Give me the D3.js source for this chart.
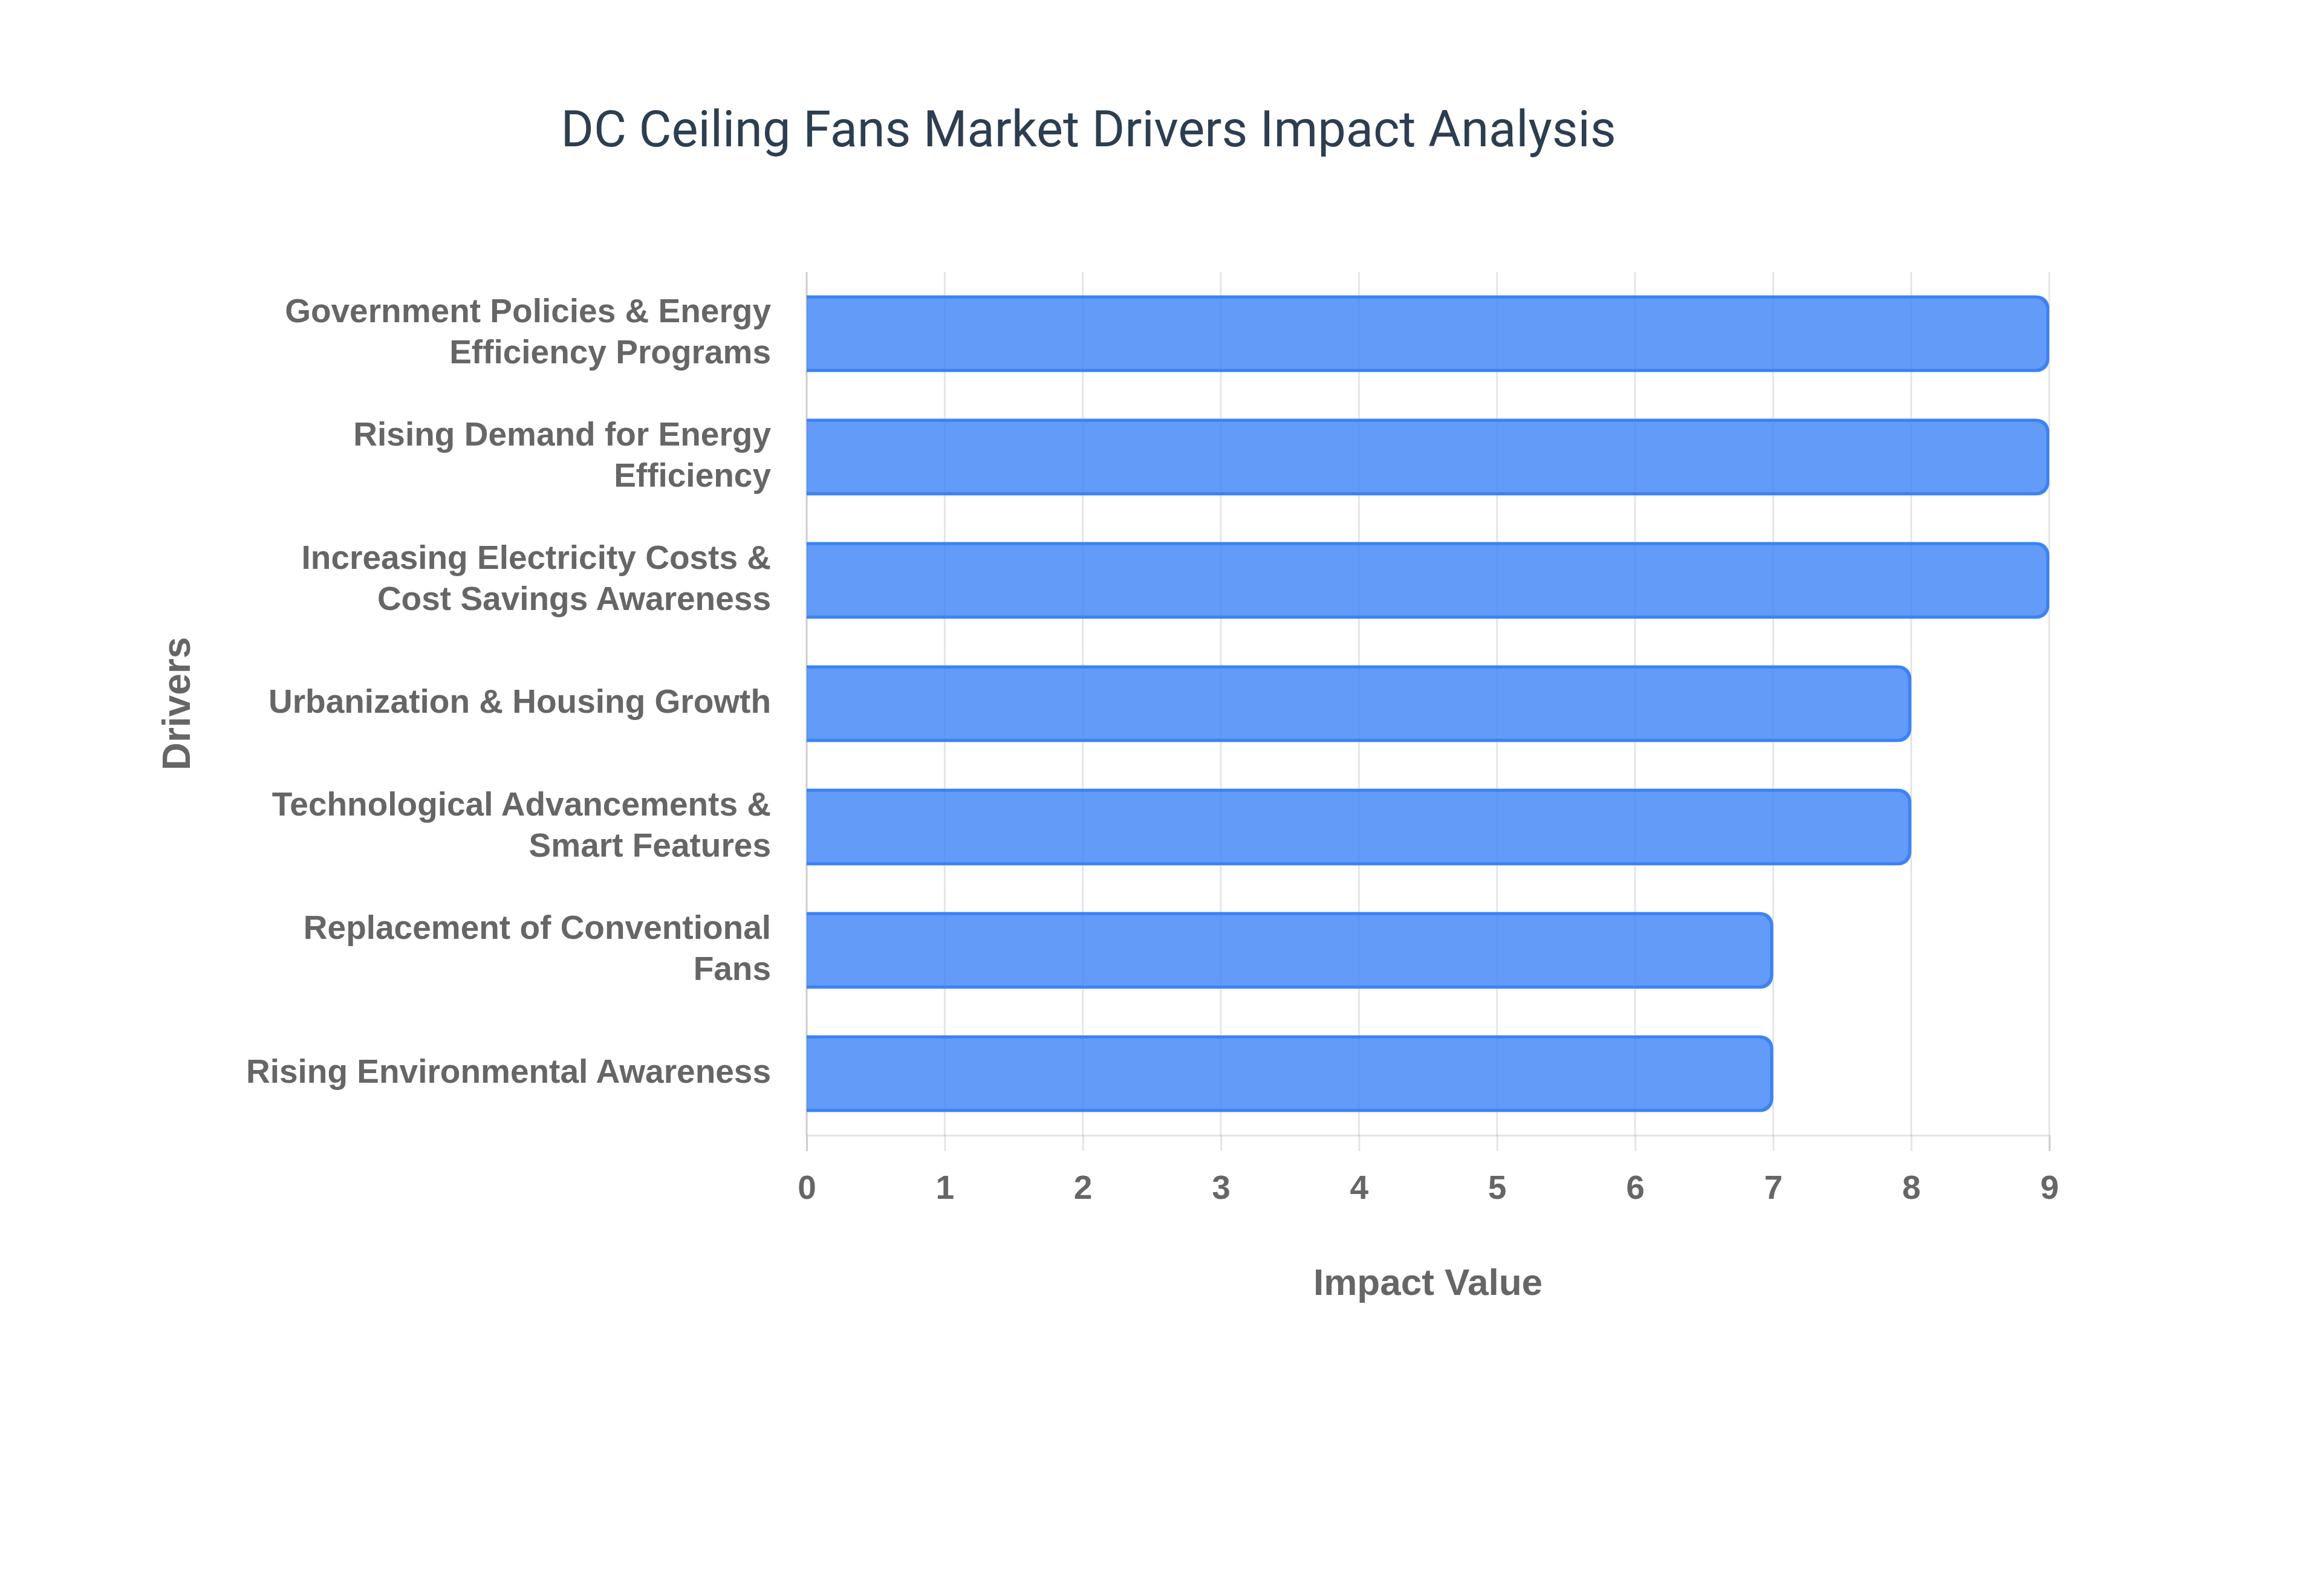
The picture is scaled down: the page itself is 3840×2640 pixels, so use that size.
<!DOCTYPE html>
<html>
<head>
<meta charset="utf-8">
<script src="https://cdn.jsdelivr.net/npm/d3@7"></script>
<style>
  body { margin: 0; background: #fff; }
  svg { display: block; }
</style>
</head>
<body>
<div id="chart"></div>
<script>
// chart data
var drivers = [
  "Government Policies & Energy Efficiency Programs",
  "Rising Demand for Energy Efficiency",
  "Increasing Electricity Costs & Cost Savings Awareness",
  "Urbanization & Housing Growth",
  "Technological Advancements & Smart Features",
  "Replacement of Conventional Fans",
  "Rising Environmental Awareness"
];
var impact = [9, 9, 9, 8, 8, 7, 7];
var xTicks = [0, 1, 2, 3, 4, 5, 6, 7, 8, 9];

var titleText = "DC Ceiling Fans Market Drivers Impact Analysis";
var xTitle = "Impact Value";
var yTitle = "Drivers";

var data = drivers.map(function(d, i) { return { driver: d, value: impact[i] }; });

// dimensions
var W = 3840, H = 2640;
var margin = { top: 450, right: 451, bottom: 762, left: 1334 },
  width = W - margin.left - margin.right,
  height = H - margin.top - margin.bottom;

var labelFont = "'Liberation Sans', Arial, Helvetica, sans-serif";
var gridColor = "rgba(0,0,0,0.1)";

var x = d3.scaleLinear().domain([0, 9]).range([0, width]);
var y = d3.scaleBand().domain(drivers).range([0, height]).paddingInner(0.38).paddingOuter(0.19);

var svg = d3.select("#chart").append("svg")
  .attr("width", W)
  .attr("height", H);

svg.append("rect").attr("width", W).attr("height", H).attr("fill", "#fff");

// title
svg.append("text")
  .attr("x", 1800)
  .attr("y", 242)
  .attr("text-anchor", "middle")
  .style("font-family", "Roboto, 'Noto Sans', sans-serif")
  .style("font-weight", 400)
  .style("font-size", "83px")
  .style("fill", "#2c3e50")
  .text(titleText);

var g = svg.append("g")
  .attr("transform", "translate(" + margin.left + "," + margin.top + ")");

// vertical grid lines
g.selectAll(".grid")
  .data(xTicks)
  .enter().append("line")
  .attr("class", "grid")
  .attr("x1", function(d) { return x(d); })
  .attr("x2", function(d) { return x(d); })
  .attr("y1", 0)
  .attr("y2", height)
  .attr("stroke", gridColor)
  .attr("stroke-width", 3);

// y axis line
g.append("line")
  .attr("x1", 0).attr("x2", 0)
  .attr("y1", 0).attr("y2", height)
  .attr("stroke", gridColor)
  .attr("stroke-width", 3);

// bars: rounded on the value end, square at the axis
var r = 20, bw = 5;
function barPath(d, inset) {
  var x0 = 0, x1 = x(d.value) - inset, y0 = y(d.driver) + inset, y1 = y(d.driver) + y.bandwidth() - inset;
  var rr = Math.min(r, (y1 - y0) / 2, x1 - x0);
  return "M" + x0 + "," + y0 +
    "H" + (x1 - rr) +
    "A" + rr + "," + rr + " 0 0 1 " + x1 + "," + (y0 + rr) +
    "V" + (y1 - rr) +
    "A" + rr + "," + rr + " 0 0 1 " + (x1 - rr) + "," + y1 +
    "H" + x0;
}

g.selectAll(".bar")
  .data(data)
  .enter().append("path")
  .attr("class", "bar")
  .attr("d", function(d) { return barPath(d, 0) + "Z"; })
  .attr("fill", "rgba(59,130,246,0.8)");

g.selectAll(".bar-border")
  .data(data)
  .enter().append("path")
  .attr("class", "bar-border")
  .attr("d", function(d) { return barPath(d, bw / 2); })
  .attr("fill", "none")
  .attr("stroke", "rgb(59,130,246)")
  .attr("stroke-width", bw);

// x axis
var xAxis = g.append("g")
  .attr("transform", "translate(0," + height + ")")
  .call(d3.axisBottom(x).tickValues(xTicks).tickFormat(d3.format("d")).tickSize(26).tickPadding(40));

xAxis.select(".domain")
  .attr("stroke", gridColor)
  .attr("stroke-width", 3);
xAxis.selectAll(".tick line")
  .attr("stroke", gridColor)
  .attr("stroke-width", 3);
xAxis.selectAll(".tick text")
  .style("font-family", labelFont)
  .style("font-weight", "bold")
  .style("font-size", "55px")
  .style("fill", "#666");

// y axis labels, wrapped at 30 characters per line
function wrapLabel(s, maxChars) {
  var words = s.split(" "), lines = [], line = "";
  words.forEach(function(w) {
    var test = line ? line + " " + w : w;
    if (test.length > maxChars && line) {
      lines.push(line);
      line = w;
    } else {
      line = test;
    }
  });
  if (line) lines.push(line);
  return lines;
}

var yAxis = g.append("g")
  .call(d3.axisLeft(y).tickSize(0).tickPadding(59));

yAxis.select(".domain").remove();
yAxis.selectAll(".tick text")
  .style("font-family", labelFont)
  .style("font-weight", "bold")
  .style("font-size", "55px")
  .style("fill", "#666")
  .each(function(d) {
    var lines = wrapLabel(d, 30);
    var t = d3.select(this).text(null).attr("dy", null);
    var lh = 68;
    var start = -(lines.length - 1) * lh / 2 + 15;
    lines.forEach(function(l, i) {
      t.append("tspan")
        .attr("x", -59)
        .attr("y", start + i * lh)
        .text(l);
    });
  });

// axis titles
svg.append("text")
  .attr("x", margin.left + width / 2)
  .attr("y", 2142)
  .attr("text-anchor", "middle")
  .style("font-family", labelFont)
  .style("font-weight", "bold")
  .style("font-size", "62px")
  .style("fill", "#666")
  .text(xTitle);

svg.append("text")
  .attr("transform", "translate(314," + (margin.top + height / 2) + ") rotate(-90)")
  .attr("text-anchor", "middle")
  .style("font-family", labelFont)
  .style("font-weight", "bold")
  .style("font-size", "64px")
  .style("fill", "#666")
  .text(yTitle);
</script>
</body>
</html>
